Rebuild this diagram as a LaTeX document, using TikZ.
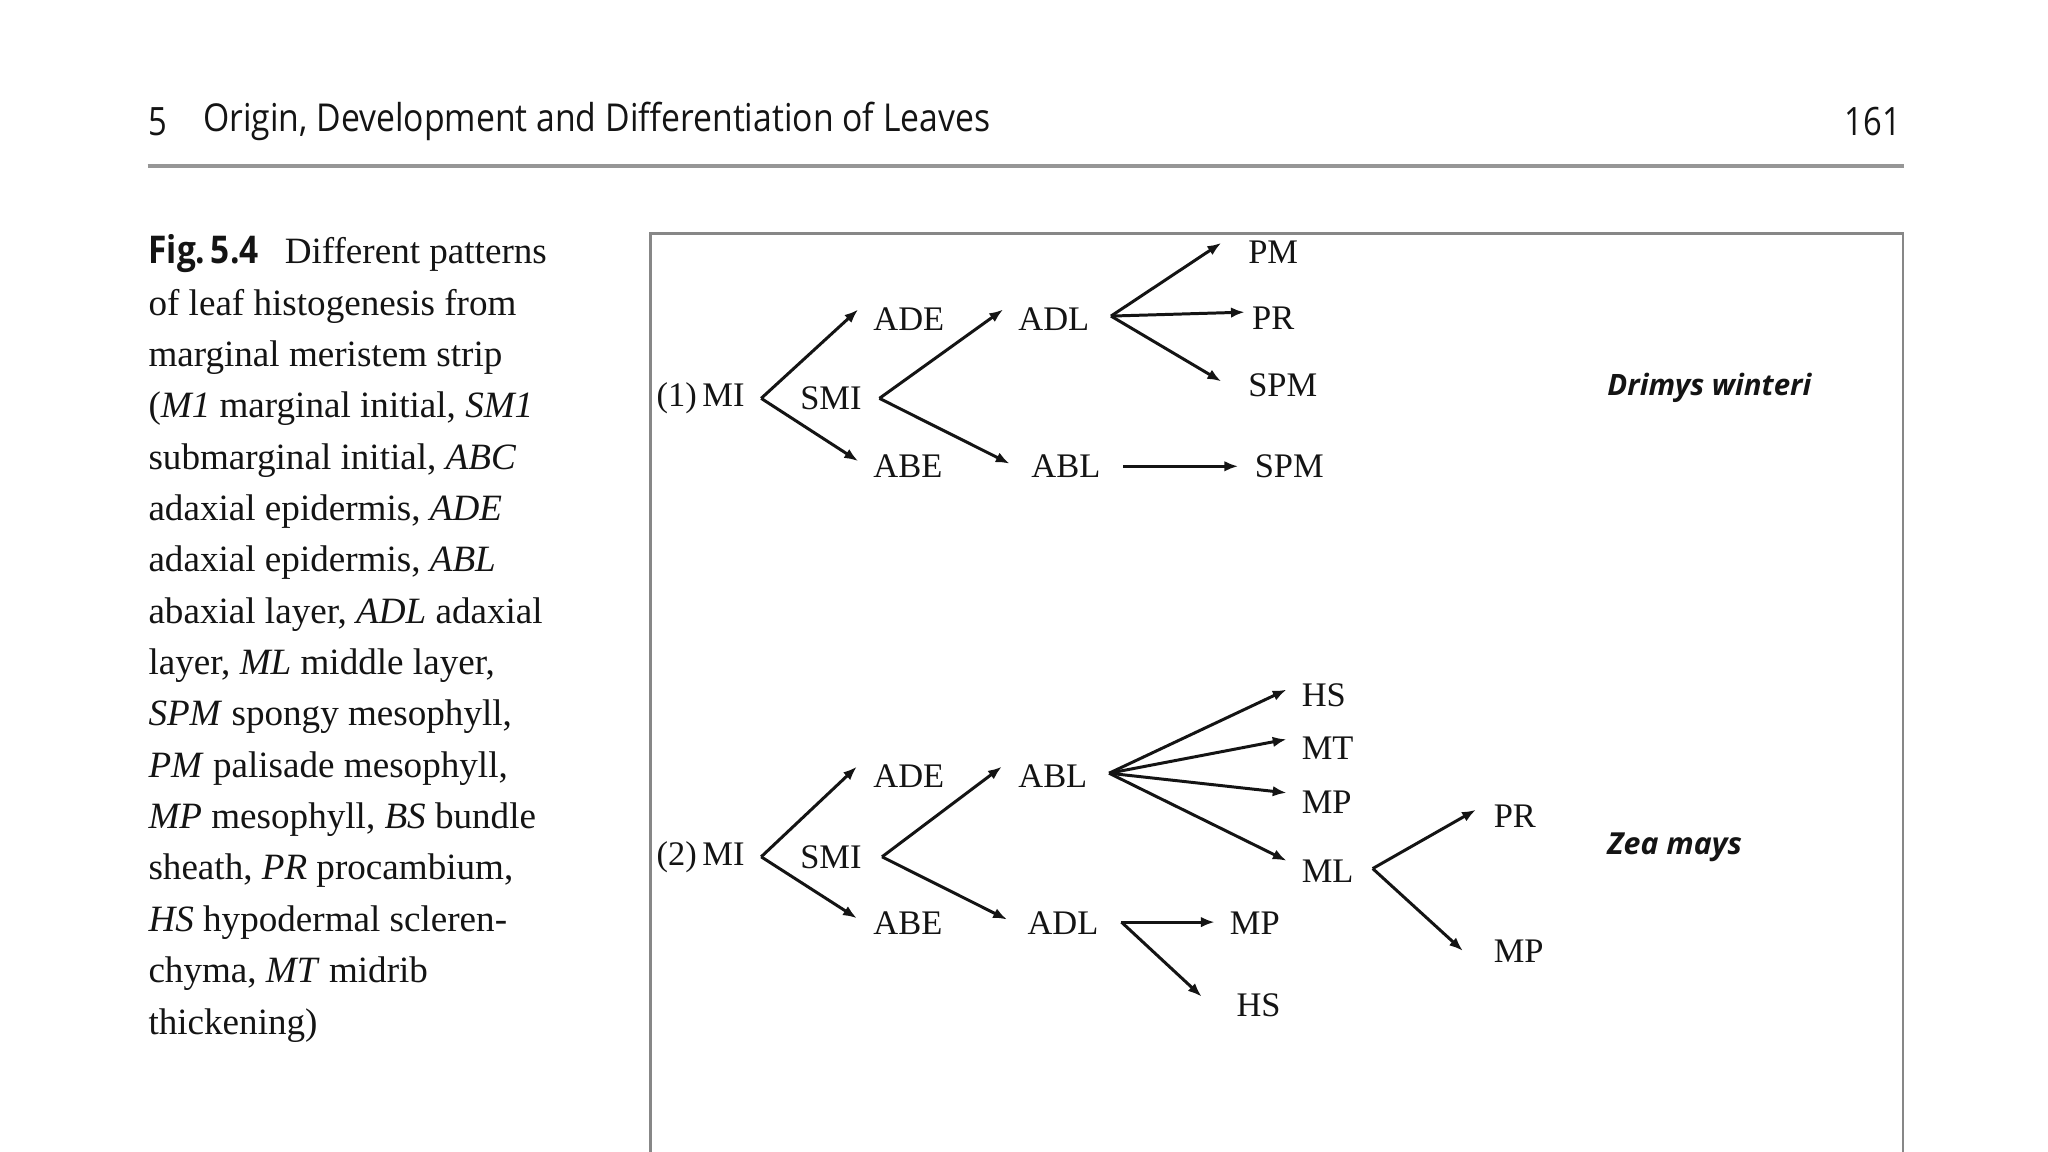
\documentclass[tikz,border=0pt]{standalone}
\usepackage{fontspec}
\usepackage{graphicx}
\setmainfont{Liberation Serif}
\newfontfamily\hdr{Open Sans}
\usetikzlibrary{arrows.meta}
\definecolor{boxgray}{RGB}{135,135,135}
\definecolor{rulegray}{RGB}{150,150,150}
\definecolor{ink}{RGB}{20,20,20}
\begin{document}
\begin{tikzpicture}[x=0.01cm,y=-0.01cm,
  lbl/.style={inner sep=0pt, anchor=west, text=ink, font=\fontsize{7.5}{9}\selectfont},
  arr/.style={line width=0.65pt, ink, -{Latex[length=3pt,width=2.3pt]}},
  hd/.style={inner sep=0pt, text=ink, font=\fontsize{8.1}{9}\hdr},
  species/.style={inner sep=0pt, anchor=west, text=ink}
  ]
\useasboundingbox (0,0) rectangle (1568,882);
\fill[white] (0,0) rectangle (1568,882);

% header
\node[hd, anchor=west] (chapno) at (113,93) {\scalebox{0.88}[1.05]{5}};
\node[hd, anchor=west] (title) at (155,93) {\resizebox{6.02cm}{0.225cm}{Origin, Development and Differentiation of Leaves}};
\node[hd, anchor=east] (page) at (1456,93) {\scalebox{0.88}[1.05]{161}};
\draw[line width=1pt, rulegray] (113,127) -- (1458,127);

% caption
\node[anchor=north west, inner sep=0pt, align=left, text=ink, font=\fontsize{8.08}{11.18}\selectfont] (caption) at (113,179) {%
{\hdr\bfseries\scalebox{0.9}[1.03]{Fig.\,5.4}}\hspace{0.2cm}Different patterns\\
of leaf histogenesis from\\
marginal meristem strip\\
(\textit{M1} marginal initial, \textit{SM1}\\
submarginal initial, \textit{ABC}\\
adaxial epidermis, \textit{ADE}\\
adaxial epidermis, \textit{ABL}\\
abaxial layer, \textit{ADL} adaxial\\
layer, \textit{ML} middle layer,\\
\textit{SPM} spongy mesophyll,\\
\textit{PM} palisade mesophyll,\\
\textit{MP} mesophyll, \textit{BS} bundle\\
sheath, \textit{PR} procambium,\\
\textit{HS} hypodermal scleren-\\
chyma, \textit{MT} midrib\\
thickening)};

% frame
\draw[line width=0.6pt, boxgray] (498,890) -- (498,179) -- (1457,179) -- (1457,890);

% ---------- (1) Drimys winteri ----------
\node[lbl] (mi1) at (502,305) {(1)\,MI};
\node[lbl] (smi1) at (612,305) {SMI};
\node[lbl] (ade1) at (668,244) {ADE};
\node[lbl] (abe1) at (668,357) {ABE};
\node[lbl] (adl1) at (779,244) {ADL};
\node[lbl] (abl1) at (789,357) {ABL};
\node[lbl] (pm1) at (955,193) {PM};
\node[lbl] (pr1) at (958,244) {PR};
\node[lbl] (spm1) at (955,295) {SPM};
\node[lbl] (spm2) at (960,357) {SPM};
\node[species] (dw) at (1230,297) {\resizebox{1.56cm}{!}{\hdr\bfseries\itshape Drimys winteri}};

\draw[arr] ([shift={(12,0)}]mi1.east) -- ([shift={(-11,-7)}]ade1.west);
\draw[arr] ([shift={(12,0)}]mi1.east) -- ([shift={(-11,-4)}]abe1.west);
\draw[arr] ([shift={(13,0)}]smi1.east) -- ([shift={(-11,-7)}]adl1.west);
\draw[arr] ([shift={(13,0)}]smi1.east) -- ([shift={(-16,-2)}]abl1.west);
\draw[arr] ([shift={(16,-2)}]adl1.east) -- ([shift={(-20,-7)}]pm1.west);
\draw[arr] ([shift={(16,-2)}]adl1.east) -- ([shift={(-5,-5)}]pr1.west);
\draw[arr] ([shift={(16,-2)}]adl1.east) -- ([shift={(-20,-3)}]spm1.west);
\draw[arr] ([shift={(17,0)}]abl1.east) -- ([shift={(-12,0)}]spm2.west);

% ---------- (2) Zea mays ----------
\node[lbl] (mi2) at (502,656) {(2)\,MI};
\node[lbl] (smi2) at (612,656) {SMI};
\node[lbl] (ade2) at (668,594) {ADE};
\node[lbl] (abe2) at (668,707) {ABE};
\node[lbl] (abl2) at (779,594) {ABL};
\node[lbl] (adl2) at (786,707) {ADL};
\node[lbl] (hs2) at (996,532) {HS};
\node[lbl] (mt2) at (996,573) {MT};
\node[lbl] (mp2) at (996,614) {MP};
\node[lbl] (ml2) at (996,667) {ML};
\node[lbl] (mp3) at (941,707) {MP};
\node[lbl] (hs3) at (946,770) {HS};
\node[lbl] (pr3) at (1143,625) {PR};
\node[lbl] (mp4) at (1143,728) {MP};
\node[species] (zm) at (1230,649) {\resizebox{1.03cm}{!}{\hdr\bfseries\itshape Zea mays}};

\draw[arr] ([shift={(12,0)}]mi2.east) -- ([shift={(-12,-7)}]ade2.west);
\draw[arr] ([shift={(12,0)}]mi2.east) -- ([shift={(-12,-4)}]abe2.west);
\draw[arr] ([shift={(15,0)}]smi2.east) -- ([shift={(-12,-7)}]abl2.west);
\draw[arr] ([shift={(15,0)}]smi2.east) -- ([shift={(-15,-3)}]adl2.west);
\draw[arr] ([shift={(16,-2)}]abl2.east) -- ([shift={(-11,-4)}]hs2.west);
\draw[arr] ([shift={(16,-2)}]abl2.east) -- ([shift={(-11,-7)}]mt2.west);
\draw[arr] ([shift={(16,-2)}]abl2.east) -- ([shift={(-11,-7)}]mp2.west);
\draw[arr] ([shift={(16,-2)}]abl2.east) -- ([shift={(-11,-8)}]ml2.west);
\draw[arr] ([shift={(17,-1)}]adl2.east) -- ([shift={(-11,-1)}]mp3.west);
\draw[arr] ([shift={(17,-1)}]adl2.east) -- ([shift={(-26,-7)}]hs3.west);
\draw[arr] ([shift={(14,-2)}]ml2.east) -- ([shift={(-13,-5)}]pr3.west);
\draw[arr] ([shift={(14,-2)}]ml2.east) -- ([shift={(-23,0)}]mp4.west);
\end{tikzpicture}
\end{document}
